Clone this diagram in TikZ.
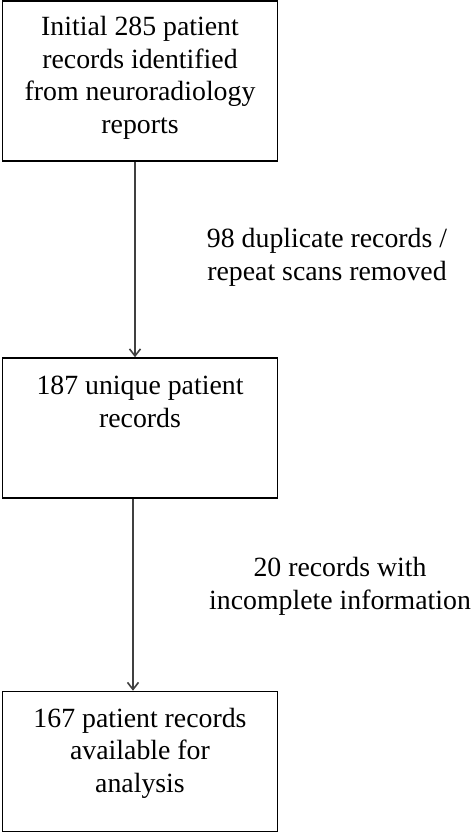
\documentclass[tikz,border=0pt]{standalone}
\usepackage{fontspec}
\setmainfont{Liberation Serif}
\usetikzlibrary{arrows.meta}
\begin{document}
\begin{tikzpicture}[x=1pt,y=-1pt,
  boxst/.style={draw=black,line width=1.6pt,inner sep=0pt},
  txt/.style={inner sep=0pt,align=center,anchor=base,font=\fontsize{27.8}{32.5}\selectfont},
  arr/.style={draw=black!75,line width=1.4pt,-{Straight Barb[length=7pt,width=11pt,line width=1.6pt]}}]
\useasboundingbox (0,0) rectangle (474,833);
\node[boxst,minimum width=275pt,minimum height=160pt] (b1) at (140,81) {};
\node[boxst,minimum width=275pt,minimum height=140pt] (b2) at (140,428) {};
\node[boxst,minimum width=275pt,minimum height=140pt] (b3) at (140,761.5) {};
\node[txt] (t1) at (140,133) {Initial 285 patient\\records identified\\from neuroradiology\\reports};
\node[txt] (t2) at (140,427) {187 unique patient\\records};
\node[txt] (t3) at (140,792) {167 patient records\\available for\\analysis};
\node[txt] (l1) at (327,280) {98 duplicate records /\\repeat scans removed};
\node[txt] (l2) at (340,609) {20 records with\\incomplete information};
\draw[arr] ([xshift=-5pt]b1.south) -- ([xshift=-5pt]b2.north);
\draw[arr] ([xshift=-7pt]b2.south) -- ([xshift=-7pt]b3.north);
\end{tikzpicture}
\end{document}
